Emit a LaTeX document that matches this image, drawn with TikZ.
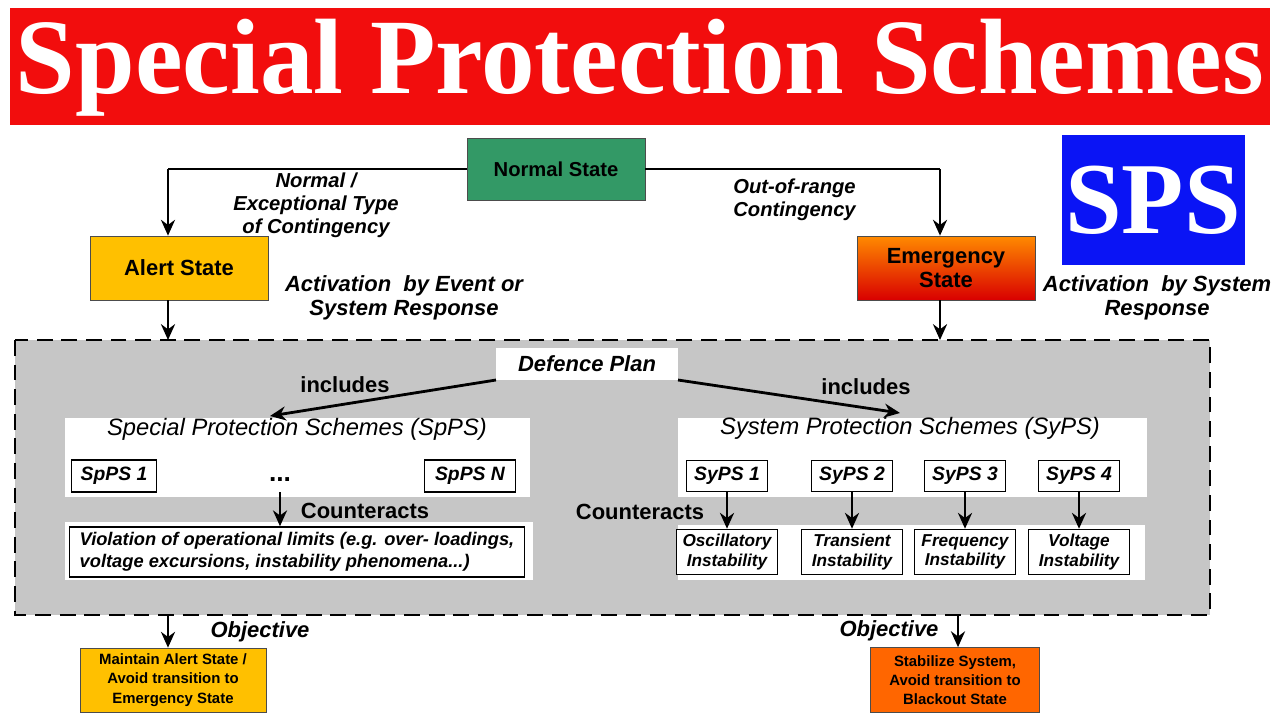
\documentclass[tikz,border=0pt]{standalone}
\usepackage{fontspec}
\setmainfont{Liberation Sans}
\newfontfamily\serifbf{Liberation Serif}
\usetikzlibrary{arrows.meta}
\definecolor{titlered}{HTML}{F20D0D}
\definecolor{stgreen}{HTML}{339966}
\definecolor{styellow}{HTML}{FFC000}
\definecolor{storange}{HTML}{FF6600}
\definecolor{spsblue}{HTML}{0A14F5}
\definecolor{plangray}{HTML}{C6C6C6}
\tikzset{
  state/.style={draw=black!70,font=\bfseries\fontsize{12.5}{13.5}\selectfont,align=center,inner sep=0pt},
  lbl/.style={font=\bfseries\itshape\fontsize{12.5}{13.5}\selectfont,align=center,inner sep=0pt},
  sub/.style={draw=black,fill=white,line width=0.9pt,font=\bfseries\itshape\fontsize{11}{12}\selectfont,align=center,inner sep=0pt},
  txt/.style={font=\bfseries\fontsize{12.5}{14}\selectfont},
  panel/.style={fill=white,draw=none},
  arr/.style={-{Stealth[length=9pt,width=8pt]},line width=1.6pt},
  ln/.style={line width=1.4pt}
}
\begin{document}
\begin{tikzpicture}[x=0.02cm,y=-0.02cm]
\useasboundingbox (0,0) rectangle (1280,720);
\fill[white] (0,0) rectangle (1280,720);

% title
\fill[titlered] (10,8) rectangle (1270,125);
\node (title) at (640,68) {\serifbf\bfseries\color{white}\fontsize{61}{63}\selectfont Special Protection Schemes};

% SPS logo
\node[fill=spsblue,minimum width=3.66cm,minimum height=2.6cm,inner sep=0pt] (sps) at (1153,200)
  {\serifbf\bfseries\color{white}\fontsize{58}{60}\selectfont SPS};

% states
\node[state,fill=stgreen,minimum width=3.56cm,minimum height=1.24cm,font=\bfseries\fontsize{11.5}{12.5}\selectfont] (normal) at (556,169) {Normal State};
\node[state,fill=styellow,minimum width=3.56cm,minimum height=1.28cm] (alert) at (179,268) {Alert State};
\node[state,top color=storange!60!styellow,bottom color=red!85!black,minimum width=3.56cm,minimum height=1.28cm] (emerg) at (946,268) {Emergency\\State};

\coordinate (ca) at (168,169);
\coordinate (ce) at (940,169);
\draw[ln] (normal.west) -- (ca);
\draw[arr] (ca) -- (ca |- alert.north);
\draw[ln] (normal.east) -- (ce);
\draw[arr] (ce) -- (ce |- emerg.north);

\node[lbl,font=\bfseries\itshape\fontsize{11.5}{13}\selectfont] (lnormal) at (316,205) {Normal /\\Exceptional Type\\of Contingency};
\node[lbl,align=left,anchor=west,font=\bfseries\itshape\fontsize{11.5}{13}\selectfont] (lout) at (733,200) {Out-of-range\\Contingency};
\node[lbl] (lact1) at (404,298) {Activation\ \ by Event or\\System Response};
\node[lbl] (lact2) at (1157,298) {Activation\ \ by System\\Response};

% defence plan
\draw[line width=1.6pt,fill=plangray,dash pattern=on 9pt off 5pt] (15,340) rectangle (1210,615);
\coordinate (pa) at (168,340);
\coordinate (pe) at (940,340);
\coordinate (pab) at (168,615);
\coordinate (peb) at (958,615);
\draw[arr] (ca |- alert.south) -- (pa);
\draw[arr] (ce |- emerg.south) -- (pe);

\node[fill=white,minimum width=3.64cm,minimum height=0.64cm,font=\bfseries\itshape\fontsize{12.5}{13}\selectfont] (plan) at (587,364) {Defence Plan};
\node[txt] (inc1) at (345,385) {includes};
\node[txt] (inc2) at (866,387) {includes};

% SpPS panel
\fill[panel] (65,418) rectangle (530,497);
\node[font=\itshape\fontsize{13.5}{15}\selectfont] (spps) at (297,429) {Special Protection Schemes (SpPS)};
\node[sub,minimum width=1.7cm,minimum height=0.64cm] (sp1) at (114,476) {SpPS 1};
\node[sub,minimum width=1.82cm,minimum height=0.64cm] (spn) at (470,476) {SpPS N};
\node[font=\bfseries\fontsize{15}{15}\selectfont] (dots) at (280,480) {...};
\coordinate (plw) at (496,380);
\coordinate (ple) at (678,380);
\draw[arr] (plw) -- (270,416);
\draw[arr] (ple) -- (900,413);

\fill[panel] (65,522) rectangle (533,580);
\node[sub,minimum width=9.1cm,minimum height=1.0cm,font=\bfseries\itshape\fontsize{10.4}{12.5}\selectfont,align=left] (viol) at (297,552)
  {Violation of operational limits (e.g. over- loadings,\\voltage excursions, instability phenomena...)};
\coordinate (dd) at (280,492);
\draw[arr] (dd) -- (dd |- viol.north);
\node[txt] (cnt1) at (365,511) {Counteracts};
\node[txt] (cnt2) at (640,512) {Counteracts};

% SyPS panel
\fill[panel] (678,418) rectangle (1147,497);
\node[font=\itshape\fontsize{13.5}{15}\selectfont] (syps) at (910,428) {System Protection Schemes (SyPS)};
\fill[panel] (678,525) rectangle (1145,580);
\foreach \i/\x/\t in {1/727/Oscillatory,2/852/Transient,3/965/Frequency,4/1079/Voltage}{
  \node[sub,minimum width=1.62cm,minimum height=0.62cm] (sy\i) at (\x,476) {SyPS \i};
  \node[sub,minimum width=2.02cm,minimum height=0.9cm,font=\bfseries\itshape\fontsize{9.8}{11}\selectfont] (ins\i) at (\x,552) {\t\\Instability};
  \draw[arr] (sy\i) -- (ins\i);
}

% objectives
\node[state,fill=styellow,minimum width=3.72cm,minimum height=1.28cm,font=\bfseries\fontsize{8.5}{11}\selectfont] (obja) at (173,680)
  {Maintain Alert State /\\Avoid transition to\\Emergency State};
\node[state,fill=storange,minimum width=3.38cm,minimum height=1.3cm,font=\bfseries\fontsize{8.5}{11}\selectfont] (obje) at (955,680)
  {Stabilize System,\\Avoid transition to\\Blackout State};
\draw[arr] (pab) -- (pab |- obja.north);
\draw[arr] (peb) -- (peb |- obje.north);
\node[lbl] (oa) at (260,632) {Objective};
\node[lbl] (oe) at (889,631) {Objective};
\end{tikzpicture}
\end{document}
